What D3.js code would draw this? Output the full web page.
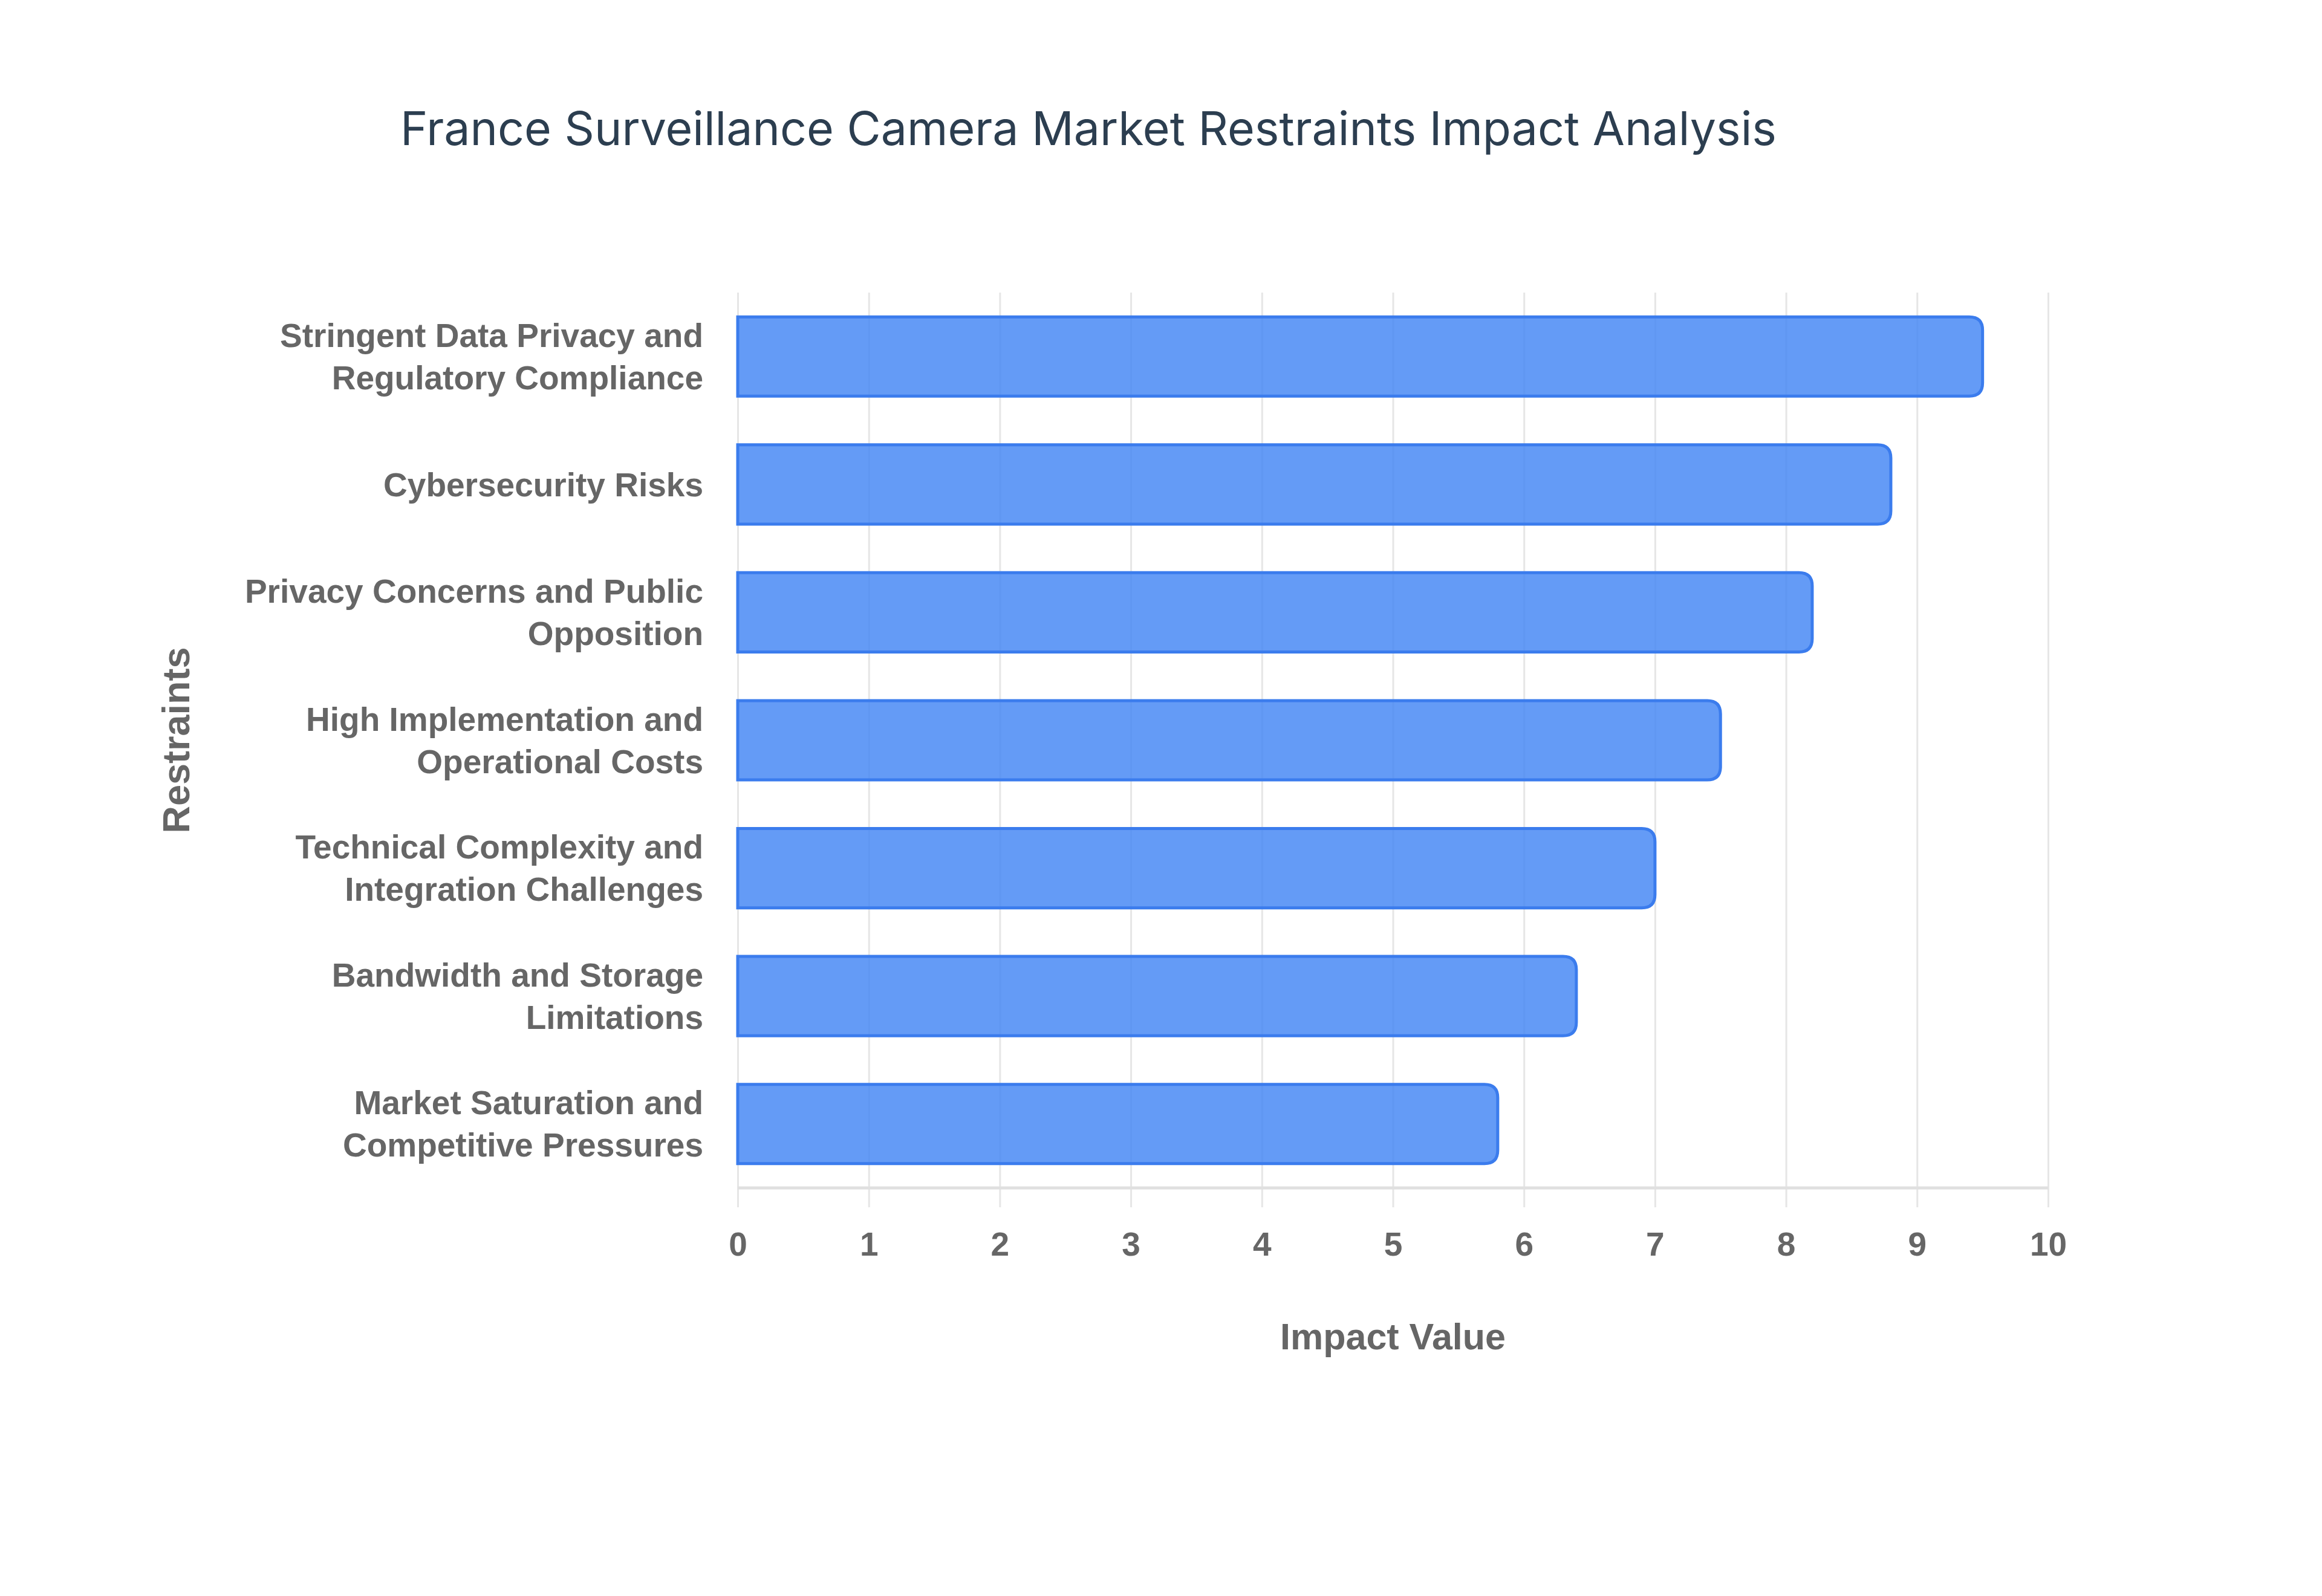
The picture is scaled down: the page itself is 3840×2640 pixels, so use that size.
<!DOCTYPE html>
<html>
<head>
<meta charset="utf-8">
<script src="https://cdn.jsdelivr.net/npm/d3@7"></script>
<style>
  body { margin: 0; background: #fff; }
</style>
</head>
<body>
<div id="canvas"></div>
<script>
// restraint categories, top to bottom, and their wrapped label lines
const restraints = [
    "Stringent Data Privacy and Regulatory Compliance",
    "Cybersecurity Risks",
    "Privacy Concerns and Public Opposition",
    "High Implementation and Operational Costs",
    "Technical Complexity and Integration Challenges",
    "Bandwidth and Storage Limitations",
    "Market Saturation and Competitive Pressures"
];
const labelLines = [
    ["Stringent Data Privacy and", "Regulatory Compliance"],
    ["Cybersecurity Risks"],
    ["Privacy Concerns and Public", "Opposition"],
    ["High Implementation and", "Operational Costs"],
    ["Technical Complexity and", "Integration Challenges"],
    ["Bandwidth and Storage", "Limitations"],
    ["Market Saturation and", "Competitive Pressures"]
];
const impactValues = [9.5, 8.8, 8.2, 7.5, 7.0, 6.4, 5.8];
const xTicks = [0, 1, 2, 3, 4, 5, 6, 7, 8, 9, 10];

const W = 3840, H = 2640;
const margin = { top: 484, right: 453, bottom: 675, left: 1220 },
    width = W - margin.left - margin.right,
    height = H - margin.top - margin.bottom;

const svg = d3.select("#canvas")
    .append("svg")
    .attr("width", W)
    .attr("height", H);

const g = svg.append("g")
    .attr("transform", `translate(${margin.left},${margin.top})`);

const x = d3.scaleLinear()
    .domain([0, 10])
    .range([0, width]);

const y = d3.scaleBand()
    .domain(restraints)
    .range([0, height])
    .paddingInner(0.38)
    .paddingOuter(0.19);

// vertical grid lines, running a little below the plot
const gridExt = 32;
g.append("g")
    .attr("transform", `translate(0,${height + gridExt})`)
    .call(d3.axisBottom(x).tickValues(xTicks).tickSize(-(height + gridExt)).tickFormat(""))
    .call(s => s.select(".domain").remove())
    .call(s => s.selectAll("line").attr("stroke", "#e6e6e6").attr("stroke-width", 3));

// bottom axis line
g.append("line")
    .attr("x1", 0).attr("x2", width)
    .attr("y1", height).attr("y2", height)
    .attr("stroke", "#e0e0e0")
    .attr("stroke-width", 5);

// bars, rounded on the right end
const r = 22;
function barPath(v, cat) {
    const x1 = x(v), y0 = y(cat), bh = y.bandwidth();
    const rr = Math.min(r, bh / 2, x1);
    return `M0,${y0} H${x1 - rr} Q${x1},${y0} ${x1},${y0 + rr} V${y0 + bh - rr} Q${x1},${y0 + bh} ${x1 - rr},${y0 + bh} H0 Z`;
}

g.append("g")
    .selectAll("path")
    .data(impactValues)
    .join("path")
    .attr("d", (d, i) => barPath(d, restraints[i]))
    .attr("fill", "rgba(66,133,244,0.82)")
    .attr("stroke", "#3b7ced")
    .attr("stroke-width", 5);

// x tick labels
g.append("g")
    .attr("transform", `translate(0,${height})`)
    .call(d3.axisBottom(x).tickValues(xTicks).tickSize(0).tickPadding(73))
    .call(s => s.select(".domain").remove())
    .call(s => s.selectAll("text")
        .attr("fill", "#666")
        .style("font-family", "'Liberation Sans', Arial, sans-serif")
        .style("font-weight", "bold")
        .style("font-size", "55px"));

// y labels (wrapped)
const fs = 55, lineH = 70;
const yl = g.append("g")
    .selectAll("text")
    .data(restraints)
    .join("text")
    .attr("x", -57)
    .attr("y", d => y(d) + y.bandwidth() / 2)
    .attr("text-anchor", "end")
    .attr("fill", "#666")
    .style("font-family", "'Liberation Sans', Arial, sans-serif")
    .style("font-weight", "bold")
    .style("font-size", fs + "px");

yl.each(function (d, i) {
    const lines = labelLines[i];
    const t = d3.select(this);
    lines.forEach((ln, k) => {
        t.append("tspan")
            .attr("x", -57)
            .attr("dy", k === 0 ? (0.35 * fs - (lines.length - 1) * lineH / 2) : lineH)
            .text(ln);
    });
});

// axis titles
svg.append("text")
    .attr("x", margin.left + width / 2)
    .attr("y", 2232)
    .attr("text-anchor", "middle")
    .attr("fill", "#666")
    .style("font-family", "'Liberation Sans', Arial, sans-serif")
    .style("font-weight", "bold")
    .style("font-size", "61px")
    .text("Impact Value");

svg.append("text")
    .attr("transform", `translate(313,${margin.top + height / 2}) rotate(-90)`)
    .attr("text-anchor", "middle")
    .attr("fill", "#666")
    .style("font-family", "'Liberation Sans', Arial, sans-serif")
    .style("font-weight", "bold")
    .style("font-size", "63px")
    .text("Restraints");

// title
svg.append("text")
    .attr("x", 1800)
    .attr("y", 240)
    .attr("text-anchor", "middle")
    .attr("fill", "#2c3e50")
    .style("font-family", "Inter, 'Noto Sans', sans-serif")
    .style("font-size", "77px")
    .text("France Surveillance Camera Market Restraints Impact Analysis");
</script>
</body>
</html>
